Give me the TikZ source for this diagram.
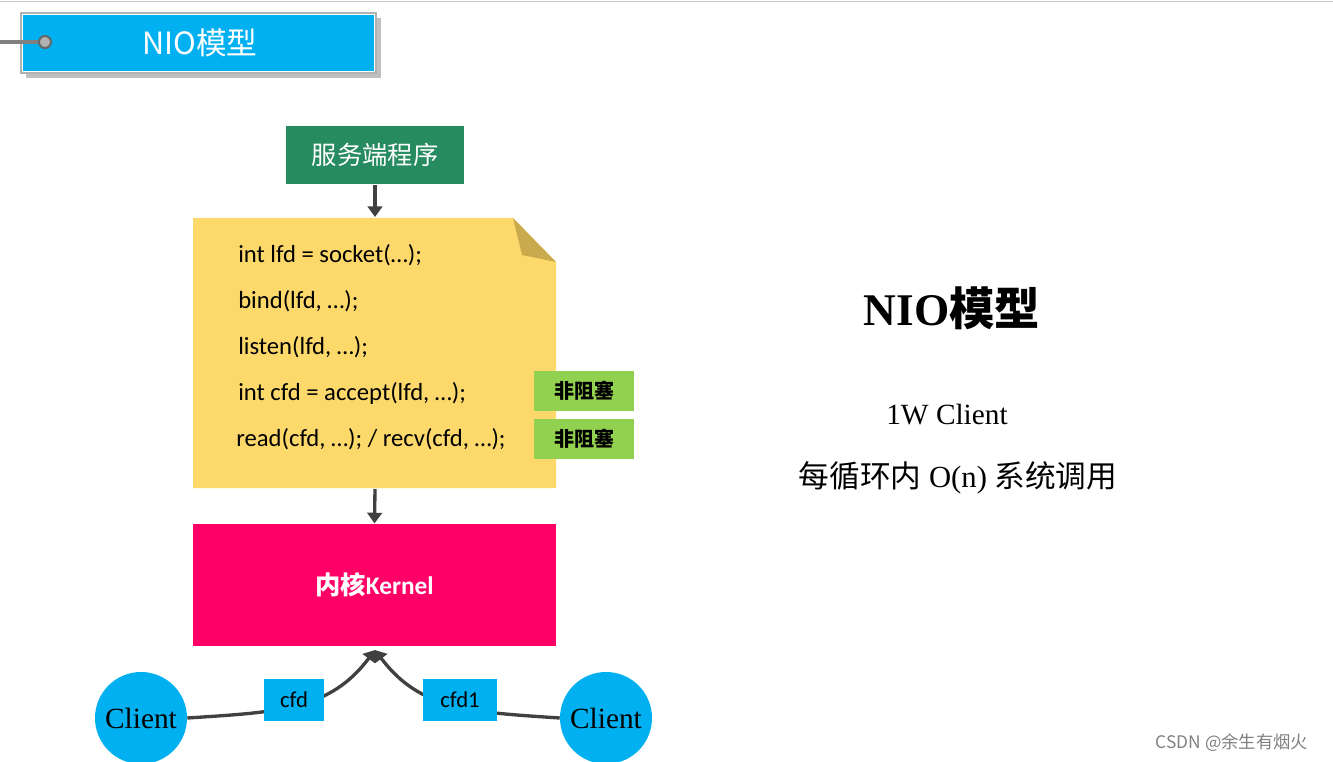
\documentclass[tikz,border=0pt]{standalone}
\usepackage{fontspec}
\setmainfont{Liberation Serif}
\newfontfamily\cjk{Noto Sans CJK SC}
\newfontfamily\calfont{Carlito}
\usetikzlibrary{arrows.meta}
\definecolor{cy}{HTML}{00B0F0}
\definecolor{gr}{HTML}{268B5E}
\definecolor{yl}{HTML}{FDD86B}
\definecolor{fold}{HTML}{C9AA4C}
\definecolor{lg}{HTML}{92D050}
\definecolor{pk}{HTML}{FF0066}
\definecolor{dk}{HTML}{404040}
\tikzset{
 arr/.style={draw=dk,line width=2.5pt,-{Triangle[length=8pt,width=11pt]}},
 code/.style={anchor=west,font=\calfont\fontsize{18.5}{20}\selectfont,inner sep=0},
 nb/.style={fill=lg,minimum width=75pt,minimum height=30pt,inner sep=0,font=\cjk\bfseries\fontsize{15}{18}\selectfont},
 lab/.style={fill=cy,font=\calfont\fontsize{17}{20}\selectfont,inner sep=0},
 cli/.style={circle,fill=cy,minimum size=69pt,inner sep=0,font=\fontsize{22}{24}\selectfont}
}
\begin{document}
\begin{tikzpicture}[x=0.75pt,y=-0.75pt]
\useasboundingbox (0,0) rectangle (1333,762);
\draw[gray!40] (0,1) -- (1333,1);
% tag
\fill[black!25] (26,18) rectangle (381,78);
\draw[white,line width=2pt,fill=cy] (22,14) rectangle (375,72);
\draw[black!30,line width=1pt] (21,13) rectangle (376,73);
\node[text=white,font=\cjk\fontsize{23}{26}\selectfont] (tag) at (200,43) {NIO模型};
\draw[gray,line width=3pt] (0,42) -- (42,42);
\node[circle,draw=black!60,fill=gray!60,line width=1.5pt,minimum size=9pt,inner sep=0] (pin) at (45,42) {};
% server
\node[fill=gr,minimum width=134pt,minimum height=44pt,text=white,font=\cjk\fontsize{19}{22}\selectfont] (srv) at (375,155) {服务端程序};
\fill[yl] (193,218) -- (513,218) -- (556,262) -- (556,488) -- (193,488) -- cycle;
\fill[fold] (513,218) -- (556,262) -- (522,255) -- cycle;
\coordinate (ytop) at (375,217);
\coordinate (ybot) at (375,489);
\draw[arr] (srv.south) -- (ytop);
\node[code] (l1) at (238,255) {int lfd = socket(…);};
\node[code] (l2) at (238,301) {bind(lfd, …);};
\node[code] (l3) at (238,347) {listen(lfd, …);};
\node[code] (l4) at (238,393) {int cfd = accept(lfd, …);};
\node[code] (l5) at (236,439) {read(cfd, …); / recv(cfd, …);};
\node[nb] (n1) at (584,391) {非阻塞};
\node[nb] (n2) at (584,439) {非阻塞};
\node[fill=pk,minimum width=272pt,minimum height=92pt,inner sep=0,text=white,font=\cjk\bfseries\fontsize{19}{22}\selectfont] (ker) at (374.5,585) {内核\calfont\bfseries Kernel};
\draw[arr] (ybot) -- (ker.north);
\node[cli] (c1) at (141,718) {Client};
\node[cli] (c2) at (606,718) {Client};
\coordinate (tip) at (375,650);
\draw[arr] (c1.east) .. controls (280,712) and (330,710) .. (tip);
\draw[arr] (c2.west) .. controls (470,712) and (420,710) .. (tip);
\node[lab,minimum width=45pt,minimum height=31pt] (cf) at (294,700) {cfd};
\node[lab,minimum width=55pt,minimum height=31pt] (cf1) at (460,700) {cfd1};
% right text
\node[font=\bfseries\fontsize{34}{38}\selectfont] (t1) at (952,308) {NIO{\cjk 模型}};
\node[font=\fontsize{22}{24}\selectfont] (t2) at (947,415) {1W Client};
\node[font=\fontsize{23}{26}\selectfont] (t3) at (958,478) {{\cjk 每循环内} O(n) {\cjk 系统调用}};
\node[text=gray,font=\cjk\fontsize{13}{15}\selectfont] (wm) at (1232,743) {CSDN @余生有烟火};
\end{tikzpicture}
\end{document}
